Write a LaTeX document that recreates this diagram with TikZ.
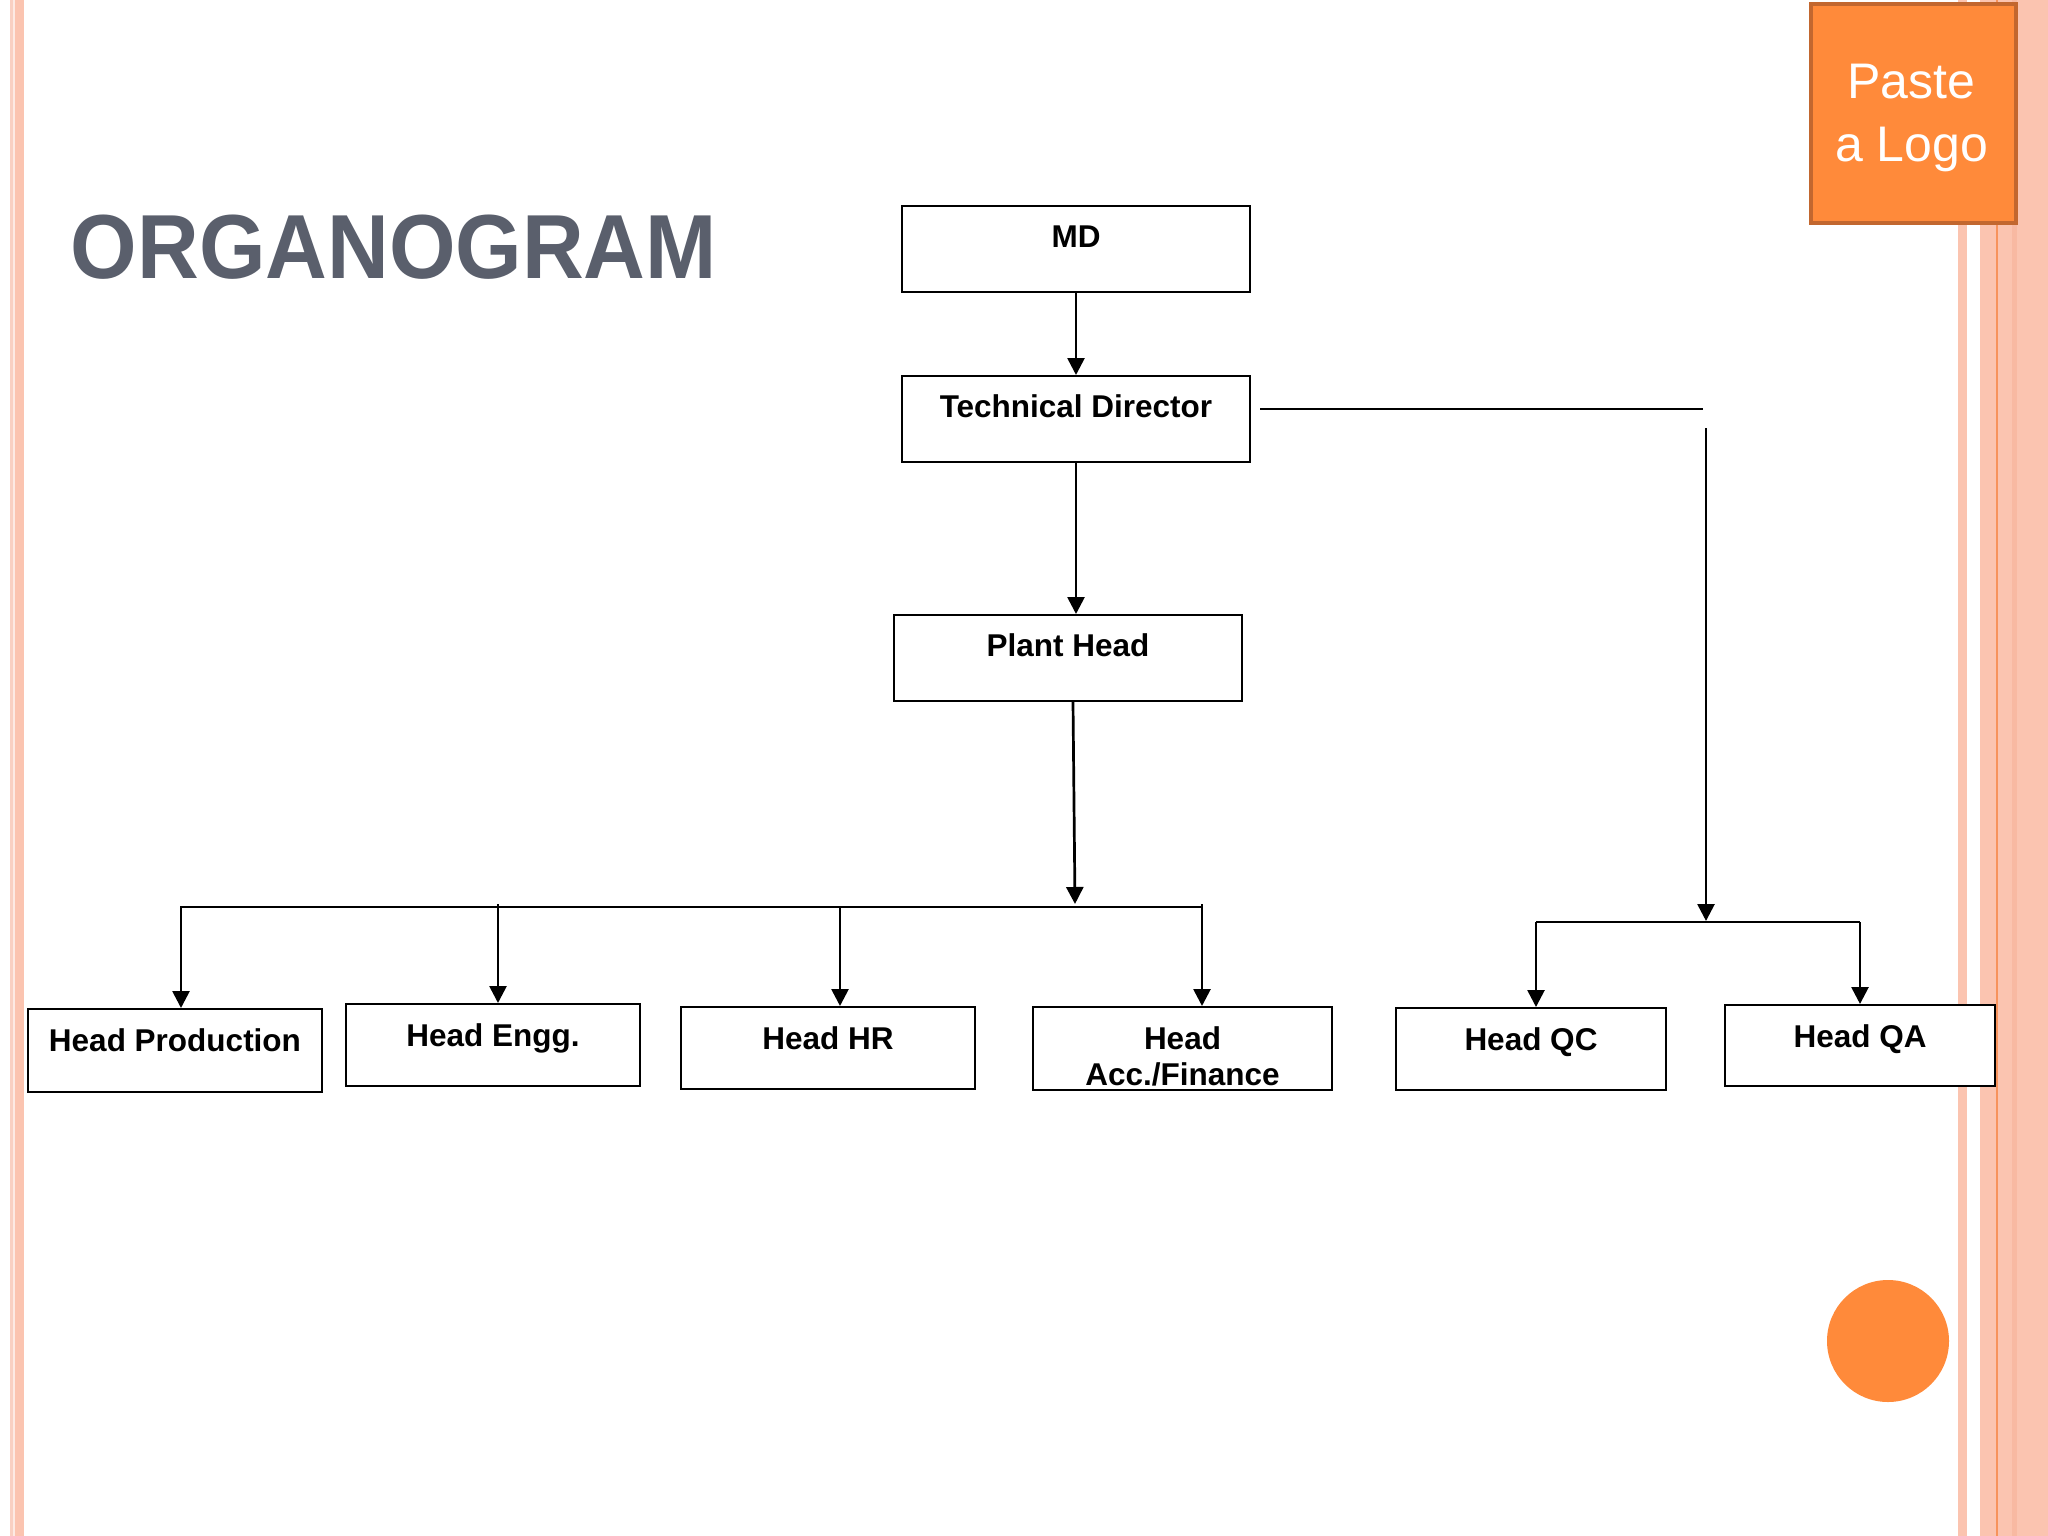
\documentclass[tikz,border=0pt]{standalone}
\usepackage{fontspec}
\setmainfont{Liberation Sans}
\usepackage{graphicx}
\usetikzlibrary{arrows.meta}
\definecolor{stripe}{HTML}{FBC4B0}
\definecolor{stripepale}{HTML}{F9D0C2}
\definecolor{stripegap}{HTML}{FDEAE3}
\definecolor{stripeline}{HTML}{F7935C}
\definecolor{stripedark}{HTML}{F8B9A2}
\definecolor{logofill}{HTML}{FF8A3A}
\definecolor{logoedge}{HTML}{C2672F}
\definecolor{titlegray}{HTML}{5A5F6C}
\begin{document}
\begin{tikzpicture}[x=1pt,y=-1pt,
  orgbox/.style={draw=black, line width=2pt, fill=white, inner sep=0pt, anchor=north west},
  boxtext/.style={anchor=base, inner sep=0pt, font=\fontsize{31.5}{36}\selectfont\bfseries},
  conn/.style={line width=2.7pt, line cap=butt},
  arr/.style={conn, -{Triangle[length=17pt,width=17pt]}},
  logotext/.style={anchor=base, inner sep=0pt, text=white, font=\fontsize{50}{60}\selectfont}
]
\useasboundingbox (0,0) rectangle (2048,1536);
\fill[white] (0,0) rectangle (2048,1536);
% left stripes
\fill[stripepale] (10,0) rectangle (13,1536);
\fill[stripegap] (13,0) rectangle (15,1536);
\fill[stripe] (15,0) rectangle (24,1536);
% right stripes
\fill[stripe] (1958,0) rectangle (1967,1536);
\fill[stripe] (1980,0) rectangle (2048,1536);
\fill[stripedark] (2012,0) rectangle (2017,1536);
\fill[stripeline] (1996,0) rectangle (1998,1536);

% title
\node[anchor=base west, inner sep=0pt, text=titlegray, font=\fontsize{91}{100}\selectfont\bfseries] (title) at (70.5,278) {\scalebox{0.94}[1]{ORGANOGRAM}};

% logo placeholder
\node[draw=logoedge, line width=4pt, fill=logofill, minimum width=205pt, minimum height=219pt, anchor=north west, inner sep=0pt] (logo) at (1809,2) {};
\node[logotext] (logo1) at (1911.5,99) {Paste};
\node[logotext] (logo2) at (1911.5,161) {a Logo};

% dot
\node[circle, fill=logofill, minimum size=122pt, inner sep=0pt] (dot) at (1888,1341) {};

% boxes
\node[orgbox, minimum width=348pt, minimum height=86pt] (md) at (901,205) {};
\node[boxtext] (mdt) at ([yshift=-42pt]md.north) {MD};
\node[orgbox, minimum width=348pt, minimum height=86pt] (td) at (901,375) {};
\node[boxtext] (tdt) at ([yshift=-42pt]td.north) {Technical Director};
\node[orgbox, minimum width=348pt, minimum height=86pt] (ph) at (893,614) {};
\node[boxtext] (pht) at ([yshift=-42pt]ph.north) {Plant Head};

\node[orgbox, minimum width=294pt, minimum height=83pt] (hp) at (27,1008) {};
\node[boxtext] (hpt) at ([yshift=-43pt]hp.north) {Head Production};
\node[orgbox, minimum width=294pt, minimum height=82pt] (he) at (345,1003) {};
\node[boxtext] (het) at ([yshift=-43pt]he.north) {Head Engg.};
\node[orgbox, minimum width=294pt, minimum height=82pt] (hr) at (680,1006) {};
\node[boxtext] (hrt) at ([yshift=-43pt]hr.north) {Head HR};
\node[orgbox, minimum width=299pt, minimum height=83pt] (haf) at (1032,1006) {};
\node[boxtext] (haft1) at ([yshift=-43pt]haf.north) {Head};
\node[boxtext] (haft2) at ([yshift=-79pt]haf.north) {Acc./Finance};
\node[orgbox, minimum width=270pt, minimum height=82pt] (qc) at (1395,1007) {};
\node[boxtext] (qct) at ([yshift=-43pt]qc.north) {Head QC};
\node[orgbox, minimum width=270pt, minimum height=81pt] (qa) at (1724,1004) {};
\node[boxtext] (qat) at ([yshift=-43pt]qa.north) {Head QA};

% connectors
\draw[arr] (md.south) -- (td.north);
\draw[arr] (td.south) -- (td.south |- ph.north);

\coordinate (tdR) at (1260,409);
\coordinate (tdRend) at (1703,409);
\draw[conn] (tdR) -- (tdRend);
\coordinate (qtop) at (1706,428);
\coordinate (qin) at (1706,921);
\draw[arr] (qtop) -- (qin);
\coordinate (qbarL) at (1536,922);
\coordinate (qbarR) at (1860,922);
\draw[conn] (qbarL) -- (qbarR);
\draw[arr] (qbarL) -- (qbarL |- qc.north);
\draw[arr] (qbarR) -- (qbarR |- qa.north);

\coordinate (barin) at (1075,904);
\draw[arr] ([xshift=5pt]ph.south) -- (barin);
\coordinate (barL) at (180,907);
\coordinate (barR) at (1202,907);
\draw[conn] (barL) -- (barR);
\coordinate (hpTop) at (181,907);
\draw[arr] (hpTop) -- (hpTop |- hp.north);
\coordinate (heTop) at (498,904);
\draw[arr] (heTop) -- (heTop |- he.north);
\coordinate (hrTop) at (840,907);
\draw[arr] (hrTop) -- (hrTop |- hr.north);
\coordinate (hafTop) at (1202,904);
\draw[arr] (hafTop) -- (hafTop |- haf.north);
\end{tikzpicture}
\end{document}
